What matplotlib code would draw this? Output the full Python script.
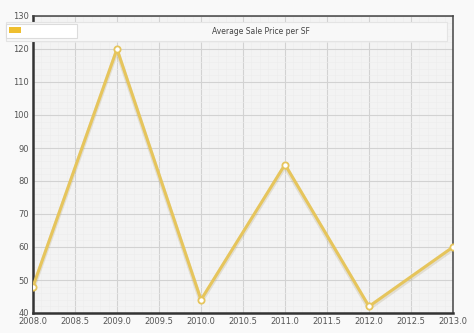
import matplotlib.pyplot as plt
from matplotlib.patches import Rectangle
from matplotlib.ticker import MultipleLocator

years = [2008, 2009, 2010, 2011, 2012, 2013]
price = [48, 120, 44, 85, 42, 60]
label = "Average Sale Price per SF"

W, H = 474, 333
fig = plt.figure(figsize=(W / 100, H / 100), dpi=100)
fig.patch.set_facecolor("#f9f9f9")

ax = fig.add_axes([33 / W, 1 - 313 / H, (453 - 33) / W, (313 - 16) / H])
ax.set_facecolor("#f3f3f3")

# shadow then line
ax.plot(years, [p - 0.6 for p in price], color="#b0a070", lw=3, alpha=0.25,
        solid_joinstyle="round", zorder=2)
ax.plot(years, price, color="#e6c55c", lw=2.2, zorder=3,
        marker="o", ms=4.5, mfc="white", mec="#e6c55c", mew=1.3)

ax.set_xlim(2008, 2013)
ax.set_ylim(40, 130)
ax.xaxis.set_major_locator(MultipleLocator(0.5))
ax.yaxis.set_major_locator(MultipleLocator(10))
ax.xaxis.set_minor_locator(MultipleLocator(0.1))
ax.yaxis.set_minor_locator(MultipleLocator(2))
ax.xaxis.set_major_formatter(plt.FuncFormatter(lambda v, p: f"{v:.1f}"))
ax.grid(which="major", color="#d2d2d2", lw=0.8)
ax.grid(which="minor", color="#ededed", lw=0.4)
ax.set_axisbelow(True)
ax.tick_params(which="both", length=0, labelsize=6, colors="#555555", pad=3)

for side in ["left", "bottom"]:
    ax.spines[side].set_linewidth(1.8)
    ax.spines[side].set_color("#333333")
for side in ["top", "right"]:
    ax.spines[side].set_linewidth(1.1)
    ax.spines[side].set_color("#444444")

# legend bar
def box(x0, y0, x1, y1, **kw):
    fig.patches.append(Rectangle((x0 / W, 1 - y1 / H), (x1 - x0) / W, (y1 - y0) / H,
                                 transform=fig.transFigure, figure=fig, **kw))

box(6, 22, 447, 41, facecolor="#f8f8f8", edgecolor="#e4e4e4", lw=0.8, zorder=5)
box(6, 24, 77, 38, facecolor="white", edgecolor="#dcdcdc", lw=0.8, zorder=6)
box(9, 27, 21, 33, facecolor="#efbf2f", edgecolor="none", zorder=7)
fig.text(261 / W, 1 - 32 / H, label, ha="center", va="center",
         fontsize=5.5, color="#444444", zorder=8)

fig.savefig("out.png", dpi=100, facecolor=fig.get_facecolor())
